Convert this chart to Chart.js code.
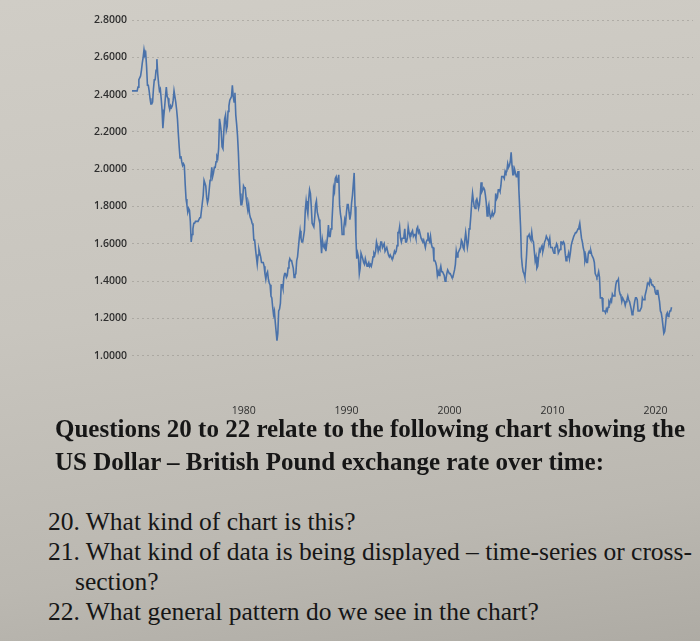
<!DOCTYPE html>
<html>
<head>
<meta charset="utf-8">
<script src="https://cdn.jsdelivr.net/npm/chart.js@4.4.0/dist/chart.umd.min.js"></script>
<style>
  html, body { margin: 0; padding: 0; }
  body {
    width: 700px; height: 641px; overflow: hidden; position: relative;
    background: linear-gradient(172deg, #d0cdc6 0%, #c8c5be 45%, #bbb8b1 80%, #aeaba4 100%);
  }
  #wrap { position: absolute; left: 0; top: 0; width: 700px; height: 420px; }
  .bold {
    position: absolute; left: 55px; top: 412px;
    font-family: "Liberation Serif", "Times New Roman", serif;
    font-weight: bold; font-size: 25px; line-height: 33px; color: #161616;
    white-space: nowrap;
  }
  .qs {
    position: absolute; left: 48px; top: 507px;
    font-family: "Liberation Serif", "Times New Roman", serif;
    font-size: 25.5px; line-height: 30px; color: #161616; white-space: nowrap;
  }
  .qs .indent { padding-left: 27px; }
</style>
</head>
<body>
<div id="wrap"><canvas id="fxChart" width="700" height="420"></canvas></div>

<div class="bold">Questions 20 to 22 relate to the following chart showing the<br>US Dollar – British Pound exchange rate over time:</div>
<div class="qs">
  <div>20. What kind of chart is this?</div>
  <div>21. What kind of data is being displayed – time-series or cross-</div>
  <div class="indent">section?</div>
  <div>22. What general pattern do we see in the chart?</div>
</div>

<script>
// monthly USD per GBP, Jan 1971 onwards
const startYear = 1971;
const rates = [
  2.42, 2.42, 2.42, 2.42, 2.42, 2.42, 2.42, 2.44, 2.48, 2.49, 2.50, 2.53, // 1971
  2.57, 2.60, 2.64, 2.61, 2.62, 2.55, 2.45, 2.45, 2.42, 2.38, 2.35, 2.35, // 1972
  2.36, 2.43, 2.48, 2.48, 2.53, 2.59, 2.51, 2.46, 2.42, 2.43, 2.38, 2.32, // 1973
  2.22, 2.28, 2.33, 2.39, 2.44, 2.39, 2.38, 2.34, 2.32, 2.34, 2.33, 2.34, // 1974
  2.37, 2.42, 2.42, 2.36, 2.32, 2.27, 2.19, 2.12, 2.06, 2.07, 2.04, 2.02, // 1975
  2.03, 2.02, 1.92, 1.84, 1.81, 1.77, 1.79, 1.78, 1.72, 1.61, 1.65, 1.68, // 1976
  1.71, 1.71, 1.72, 1.72, 1.72, 1.72, 1.72, 1.74, 1.74, 1.78, 1.82, 1.86, // 1977
  1.94, 1.94, 1.91, 1.85, 1.82, 1.84, 1.89, 1.94, 1.96, 2.01, 1.96, 1.98, // 1978
  2.01, 2.01, 2.04, 2.07, 2.06, 2.11, 2.27, 2.24, 2.20, 2.12, 2.11, 2.20, // 1979
  2.27, 2.29, 2.21, 2.23, 2.31, 2.34, 2.37, 2.38, 2.39, 2.45, 2.39, 2.36, // 1980
  2.41, 2.29, 2.24, 2.18, 2.09, 1.97, 1.87, 1.81, 1.81, 1.84, 1.91, 1.90, // 1981
  1.90, 1.85, 1.81, 1.78, 1.81, 1.76, 1.74, 1.73, 1.71, 1.70, 1.62, 1.62, // 1982
  1.57, 1.53, 1.49, 1.54, 1.57, 1.55, 1.53, 1.50, 1.50, 1.50, 1.48, 1.44, // 1983
  1.41, 1.44, 1.45, 1.41, 1.39, 1.38, 1.32, 1.31, 1.26, 1.22, 1.24, 1.18, // 1984
  1.13, 1.08, 1.12, 1.24, 1.25, 1.28, 1.38, 1.38, 1.36, 1.42, 1.44, 1.44, // 1985
  1.42, 1.43, 1.47, 1.50, 1.52, 1.51, 1.51, 1.49, 1.47, 1.42, 1.43, 1.44, // 1986
  1.51, 1.53, 1.58, 1.63, 1.67, 1.63, 1.61, 1.61, 1.64, 1.67, 1.78, 1.83, // 1987
  1.79, 1.76, 1.84, 1.89, 1.87, 1.80, 1.71, 1.70, 1.69, 1.74, 1.81, 1.83, // 1988
  1.77, 1.75, 1.73, 1.71, 1.62, 1.55, 1.62, 1.59, 1.58, 1.60, 1.56, 1.60, // 1989
  1.64, 1.70, 1.64, 1.64, 1.68, 1.71, 1.80, 1.90, 1.88, 1.95, 1.96, 1.93, // 1990
  1.94, 1.97, 1.81, 1.76, 1.73, 1.65, 1.65, 1.69, 1.73, 1.71, 1.77, 1.81, // 1991
  1.81, 1.77, 1.73, 1.76, 1.82, 1.86, 1.92, 1.98, 1.80, 1.64, 1.52, 1.55, // 1992
  1.53, 1.44, 1.47, 1.55, 1.55, 1.52, 1.50, 1.49, 1.52, 1.50, 1.48, 1.49, // 1993
  1.50, 1.48, 1.49, 1.48, 1.50, 1.53, 1.55, 1.54, 1.56, 1.61, 1.59, 1.56, // 1994
  1.58, 1.57, 1.61, 1.61, 1.58, 1.59, 1.60, 1.56, 1.56, 1.58, 1.56, 1.54, // 1995
  1.53, 1.54, 1.53, 1.52, 1.52, 1.54, 1.56, 1.55, 1.56, 1.59, 1.66, 1.66, // 1996
  1.69, 1.63, 1.61, 1.63, 1.63, 1.64, 1.68, 1.61, 1.61, 1.63, 1.69, 1.66, // 1997
  1.64, 1.64, 1.66, 1.67, 1.64, 1.65, 1.65, 1.63, 1.68, 1.69, 1.66, 1.67, // 1998
  1.65, 1.63, 1.62, 1.61, 1.62, 1.60, 1.58, 1.61, 1.62, 1.66, 1.62, 1.61, // 1999
  1.64, 1.60, 1.58, 1.58, 1.51, 1.51, 1.50, 1.48, 1.43, 1.45, 1.43, 1.46, // 2000
  1.48, 1.45, 1.45, 1.44, 1.43, 1.40, 1.41, 1.44, 1.46, 1.45, 1.44, 1.44, // 2001
  1.43, 1.42, 1.42, 1.44, 1.46, 1.49, 1.56, 1.53, 1.55, 1.56, 1.57, 1.58, // 2002
  1.62, 1.61, 1.58, 1.57, 1.62, 1.66, 1.62, 1.58, 1.61, 1.68, 1.69, 1.75, // 2003
  1.82, 1.87, 1.83, 1.80, 1.79, 1.83, 1.84, 1.82, 1.79, 1.81, 1.86, 1.93, // 2004
  1.88, 1.89, 1.90, 1.89, 1.86, 1.82, 1.75, 1.79, 1.81, 1.76, 1.74, 1.75, // 2005
  1.77, 1.75, 1.75, 1.77, 1.87, 1.84, 1.85, 1.89, 1.89, 1.88, 1.91, 1.96, // 2006
  1.96, 1.96, 1.95, 1.99, 1.98, 1.99, 2.03, 2.01, 2.02, 2.04, 2.09, 2.02, // 2007
  1.97, 1.97, 2.00, 1.98, 1.96, 1.96, 1.99, 1.89, 1.79, 1.69, 1.53, 1.48, // 2008
  1.45, 1.44, 1.42, 1.47, 1.54, 1.64, 1.64, 1.65, 1.63, 1.62, 1.66, 1.62, // 2009
  1.61, 1.56, 1.51, 1.53, 1.47, 1.48, 1.53, 1.57, 1.56, 1.58, 1.59, 1.56, // 2010
  1.58, 1.61, 1.62, 1.64, 1.63, 1.62, 1.61, 1.63, 1.58, 1.58, 1.58, 1.56, // 2011
  1.55, 1.58, 1.58, 1.60, 1.59, 1.55, 1.56, 1.57, 1.61, 1.61, 1.60, 1.61, // 2012
  1.60, 1.55, 1.51, 1.53, 1.53, 1.55, 1.52, 1.55, 1.59, 1.61, 1.61, 1.64, // 2013
  1.65, 1.66, 1.66, 1.67, 1.68, 1.69, 1.71, 1.67, 1.63, 1.61, 1.58, 1.56, // 2014
  1.51, 1.53, 1.50, 1.50, 1.55, 1.56, 1.55, 1.56, 1.54, 1.53, 1.52, 1.50, // 2015
  1.44, 1.43, 1.42, 1.43, 1.45, 1.42, 1.31, 1.31, 1.31, 1.24, 1.24, 1.24, // 2016
  1.23, 1.25, 1.24, 1.26, 1.29, 1.28, 1.30, 1.29, 1.33, 1.32, 1.32, 1.34, // 2017
  1.38, 1.40, 1.40, 1.41, 1.35, 1.33, 1.32, 1.29, 1.31, 1.30, 1.29, 1.27, // 2018
  1.29, 1.30, 1.32, 1.30, 1.29, 1.27, 1.25, 1.22, 1.23, 1.26, 1.29, 1.31, // 2019
  1.31, 1.30, 1.24, 1.24, 1.24, 1.25, 1.26, 1.31, 1.30, 1.30, 1.32, 1.34, // 2020
  1.36, 1.39, 1.39, 1.38, 1.41, 1.40, 1.38, 1.38, 1.37, 1.37, 1.34, 1.33, // 2021
  1.35, 1.35, 1.32, 1.29, 1.24, 1.23, 1.20, 1.20, 1.12, 1.13, 1.17, 1.22, // 2022
  1.23, 1.21, 1.22, 1.24, 1.24, 1.26                                      // 2023
];
const tickYears = [1980, 1990, 2000, 2010, 2020];
const yMin = 0.8;
const yMax = 2.8;

const points = rates.map((v, i) => ({x: startYear + i / 12, y: v}));

const ctx = document.getElementById('fxChart');

new Chart(ctx, {
    type: 'line',

    data: {
        datasets: [{
            label: 'USD / GBP',
            data: points,
            borderColor: '#4a72aa',
            borderWidth: 1.6,
            pointRadius: 0,
            tension: 0,
            fill: false
        }]
    },

    options: {
        responsive: false,
        animation: false,
        layout: {
            padding: {top: 20, right: 7, left: 0, bottom: 0}
        },
        plugins: {
            legend: {display: false},
            tooltip: {enabled: false}
        },
        scales: {
            x: {
                type: 'linear',
                min: startYear,
                max: 2025.5,
                afterBuildTicks(scale) {
                    scale.ticks = tickYears.map(v => ({value: v}));
                },
                afterFit(scale) {
                    scale.height = 27;
                },
                ticks: {
                    autoSkip: false,
                    maxRotation: 0,
                    labelOffset: 19,
                    padding: 4,
                    color: '#2e2e2e',
                    font: {family: 'Open Sans', size: 10.5},
                    callback: v => String(v)
                },
                grid: {display: false},
                border: {display: false}
            },
            y: {
                min: yMin,
                max: yMax,
                afterFit(scale) {
                    scale.width = 132;
                },
                ticks: {
                    stepSize: 0.2,
                    padding: 5,
                    color: '#2e2e2e',
                    font: {family: 'Open Sans', size: 10.5, weight: '600'},
                    callback: v => v < 0.9 ? '' : Number(v).toFixed(4)
                },
                grid: {
                    drawTicks: false,
                    color: ctx => ctx.tick && ctx.tick.value < 0.9 ? 'rgba(0,0,0,0)' : 'rgba(120,118,112,0.35)',
                    lineWidth: 1
                },
                border: {display: false, dash: [2, 3]}
            }
        }
    }
});
</script>
</body>
</html>
